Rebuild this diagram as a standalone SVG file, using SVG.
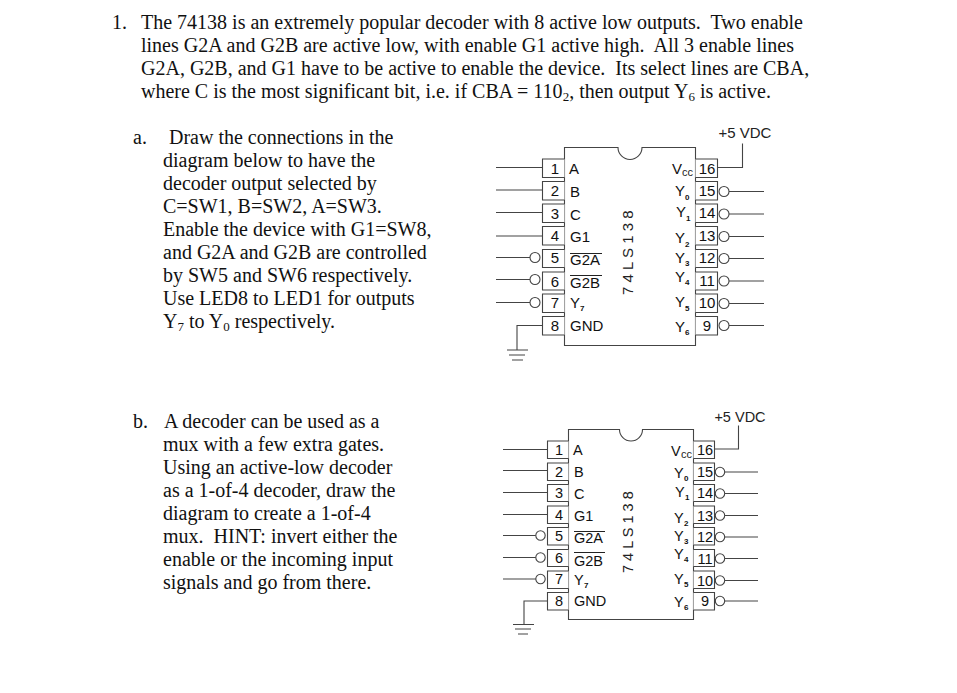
<svg xmlns="http://www.w3.org/2000/svg" width="957" height="693" viewBox="0 0 957 693">
<style>
text{fill:#111;white-space:pre}
.p{font-family:"Liberation Serif","Times New Roman",serif;font-size:20px}
.s{font-size:13px}
.a{font-family:"Liberation Sans",Arial,sans-serif;font-size:15px;fill:#222}
.b{font-family:"Liberation Sans",Arial,sans-serif;font-size:14.5px;fill:#222}
.m{text-anchor:middle}
.t{font-family:"Liberation Sans",Arial,sans-serif;font-size:8px;font-weight:bold;fill:#222}
.v{font-family:"Liberation Sans",Arial,sans-serif;font-size:11px;fill:#222}
.l{fill:none;stroke:#444;stroke-width:1.1}
.x{fill:#fff;stroke:#444;stroke-width:1.1}
.o{fill:none;stroke:#222;stroke-width:1}
</style>
<rect width="957" height="693" fill="#fff"/>
<g id="text-problem">
<text class="p" x="112" y="29">1.</text>
<text class="p" x="141" y="29">The 74138 is an extremely popular decoder with 8 active low outputs.  Two enable</text>
<text class="p" x="141" y="52">lines G2A and G2B are active low, with enable G1 active high.  All 3 enable lines</text>
<text class="p" x="141" y="75">G2A, G2B, and G1 have to be active to enable the device.  Its select lines are CBA,</text>
<text class="p" x="141" y="98">where C is the most significant bit, i.e. if CBA = 110<tspan class="s" dy="3">2</tspan><tspan dy="-3">, then output Y</tspan><tspan class="s" dy="3">6</tspan><tspan dy="-3"> is active.</tspan></text>
</g>
<g id="text-a">
<text class="p" x="133" y="144">a.</text>
<text class="p" x="169" y="144">Draw the connections in the</text>
<text class="p" x="163" y="167">diagram below to have the</text>
<text class="p" x="163" y="190">decoder output selected by</text>
<text class="p" x="163" y="213">C=SW1, B=SW2, A=SW3.</text>
<text class="p" x="163" y="236">Enable the device with G1=SW8,</text>
<text class="p" x="163" y="259">and G2A and G2B are controlled</text>
<text class="p" x="163" y="282">by SW5 and SW6 respectively.</text>
<text class="p" x="163" y="305">Use LED8 to LED1 for outputs</text>
<text class="p" x="163" y="328">Y<tspan class="s" dy="3">7</tspan><tspan dy="-3"> to Y</tspan><tspan class="s" dy="3">0</tspan><tspan dy="-3"> respectively.</tspan></text>
</g>
<g id="text-b">
<text class="p" x="133" y="428">b.</text>
<text class="p" x="164" y="428">A decoder can be used as a</text>
<text class="p" x="163" y="451">mux with a few extra gates.</text>
<text class="p" x="163" y="474">Using an active-low decoder</text>
<text class="p" x="163" y="497">as a 1-of-4 decoder, draw the</text>
<text class="p" x="163" y="520">diagram to create a 1-of-4</text>
<text class="p" x="163" y="543">mux.  HINT: invert either the</text>
<text class="p" x="163" y="566">enable or the incoming input</text>
<text class="p" x="163" y="589">signals and go from there.</text>
</g>
<g id="connectors">
<path class="l" d="M496 167.5H542M496 190H542M496 212.5H542M496 236H542M496 257.5H530M496 279.5H530M496 302.5H530"/>
<path class="l" d="M542 325.5H517V350M507 350H528M509 355H525M512 360H523"/>
<path class="l" d="M718 167.5H742.5V143.5"/>
<path class="l" d="M729 191.5H764M729 214H764M729 236.5H764M729 258.5H764M729 281H764M729 303.5H764M729 325.5H764"/>
<path class="l" d="M503 449.5H547M503 470.5H547M503 492.5H547M503 514.5H547M503 535.5H536M503 557.5H536M503 579H536"/>
<path class="l" d="M547 601H524V624.5M513 624.5H534M515 629H531M518 634H528"/>
<path class="l" d="M715 449H738.5V425.5"/>
<path class="l" d="M725 472H758M725 493.5H758M725 515.5H758M725 537H758M725 558.5H758M725 580.5H758M725 601H758"/>
</g>
<g id="ic-a">
<path class="l" d="M564.5 345.5V147.5H618A12 12 0 0 0 642 147.5H695.5V345.5Z"/>
<path class="x" d="M564.5 159H542.5V177.5H564.5M564.5 181.5H542.5V200H564.5M564.5 204H542.5V222.5H564.5M564.5 226.5H542.5V245H564.5M564.5 249.5H542.5V267.5H564.5M564.5 272H542.5V290H564.5M564.5 294H542.5V312.5H564.5M564.5 316.5H542.5V335H564.5"/>
<path class="x" d="M695.5 159H717.5V177.5H695.5M695.5 181.5H717.5V200H695.5M695.5 204H717.5V222.5H695.5M695.5 226.5H717.5V245H695.5M695.5 249.5H717.5V267.5H695.5M695.5 272H717.5V290H695.5M695.5 294H717.5V312.5H695.5M695.5 316.5H717.5V335H695.5"/>
<g class="x"><circle cx="535" cy="257.5" r="5"/><circle cx="535" cy="279.5" r="5"/><circle cx="535" cy="302.5" r="5"/><circle cx="724" cy="191.5" r="5"/><circle cx="724" cy="214" r="5"/><circle cx="724" cy="236.5" r="5"/><circle cx="724" cy="258.5" r="5"/><circle cx="724" cy="281" r="5"/><circle cx="724" cy="303.5" r="5"/><circle cx="724" cy="325.5" r="5"/></g>
<g class="a m">
<text x="555" y="174">1</text><text x="555" y="196">2</text><text x="555" y="219">3</text><text x="555" y="241">4</text><text x="555" y="263">5</text><text x="555" y="287">6</text><text x="555" y="308">7</text><text x="555" y="331">8</text>
<text x="707" y="174">16</text><text x="707" y="196">15</text><text x="707" y="218">14</text><text x="707" y="241">13</text><text x="707" y="263">12</text><text x="707" y="286">11</text><text x="707" y="308">10</text><text x="707" y="331">9</text>
</g>
<g class="a">
<text x="569" y="174">A</text><text x="570" y="197">B</text><text x="570" y="220">C</text><text x="570" y="242">G1</text><text x="570" y="265">G2A</text><text x="570" y="288">G2B</text><text x="570" y="308">Y</text><text x="570" y="331">GND</text>
<text x="672" y="174">V</text><text x="675" y="196">Y</text><text x="676" y="217">Y</text><text x="675" y="243">Y</text><text x="675" y="263">Y</text><text x="675" y="282">Y</text><text x="675" y="307">Y</text><text x="675" y="332">Y</text>
</g>
<text class="v" x="682" y="176">cc</text>
<g class="t"><text x="580" y="311">7</text><text x="685" y="200">0</text><text x="686" y="221">1</text><text x="685" y="247">2</text><text x="685" y="266">3</text><text x="685" y="285">4</text><text x="685" y="311">5</text><text x="685" y="335">6</text></g>
<path class="o" d="M570 253.5H602M570 275.5H602"/>
<text class="a" transform="translate(632.5 295) rotate(-90)">7 4 L S 1 3 8</text>
<text class="a m" x="745" y="138">+5 VDC</text>
</g>
<g id="ic-b">
<path class="l" d="M568.5 619.5V429.5H619.5A11.5 11.5 0 0 0 642.5 429.5H693.5V619.5Z"/>
<path class="x" d="M568.5 441H547.5V458.5H568.5M568.5 463H547.5V480.5H568.5M568.5 484.5H547.5V501.5H568.5M568.5 506H547.5V523.5H568.5M568.5 527.5H547.5V545H568.5M568.5 549.5H547.5V566.5H568.5M568.5 571H547.5V588.5H568.5M568.5 592.5H547.5V610H568.5"/>
<path class="x" d="M693.5 441H714.5V458.5H693.5M693.5 463H714.5V480.5H693.5M693.5 484.5H714.5V501.5H693.5M693.5 506H714.5V523.5H693.5M693.5 527.5H714.5V545H693.5M693.5 549.5H714.5V566.5H693.5M693.5 571H714.5V588.5H693.5M693.5 592.5H714.5V610H693.5"/>
<g class="x"><circle cx="540.5" cy="535.5" r="4.7"/><circle cx="540.5" cy="557.5" r="4.7"/><circle cx="540.5" cy="579" r="4.7"/><circle cx="720" cy="472" r="4.7"/><circle cx="720" cy="493.5" r="4.7"/><circle cx="720" cy="515.5" r="4.7"/><circle cx="720" cy="537" r="4.7"/><circle cx="720" cy="558.5" r="4.7"/><circle cx="720" cy="580.5" r="4.7"/><circle cx="720" cy="601" r="4.7"/></g>
<g class="b m">
<text x="559" y="455">1</text><text x="559" y="477">2</text><text x="559" y="498">3</text><text x="559" y="520">4</text><text x="559" y="541">5</text><text x="559" y="563">6</text><text x="559" y="584">7</text><text x="559" y="606">8</text>
<text x="705" y="455">16</text><text x="705" y="477">15</text><text x="705" y="498">14</text><text x="705" y="521">13</text><text x="705" y="542">12</text><text x="705" y="564">11</text><text x="705" y="586">10</text><text x="705" y="606">9</text>
</g>
<g class="b">
<text x="573" y="455">A</text><text x="574" y="477">B</text><text x="574" y="499">C</text><text x="574" y="521">G1</text><text x="574" y="543">G2A</text><text x="574" y="566">G2B</text><text x="574" y="585">Y</text><text x="574" y="606">GND</text>
<text x="671" y="456">V</text><text x="674" y="478">Y</text><text x="675" y="497">Y</text><text x="674" y="523">Y</text><text x="674" y="541">Y</text><text x="674" y="559">Y</text><text x="674" y="584">Y</text><text x="674" y="607">Y</text>
</g>
<text class="v" x="681" y="458">cc</text>
<g class="t"><text x="584" y="588">7</text><text x="684" y="481">0</text><text x="685" y="500">1</text><text x="684" y="526">2</text><text x="684" y="544">3</text><text x="684" y="562">4</text><text x="684" y="587">5</text><text x="684" y="610">6</text></g>
<path class="o" d="M574 531.5H605M574 552.5H605"/>
<text class="b" transform="translate(632.5 573) rotate(-90)">7 4 L S 1 3 8</text>
<text class="b m" x="740" y="422">+5 VDC</text>
</g>
</svg>
